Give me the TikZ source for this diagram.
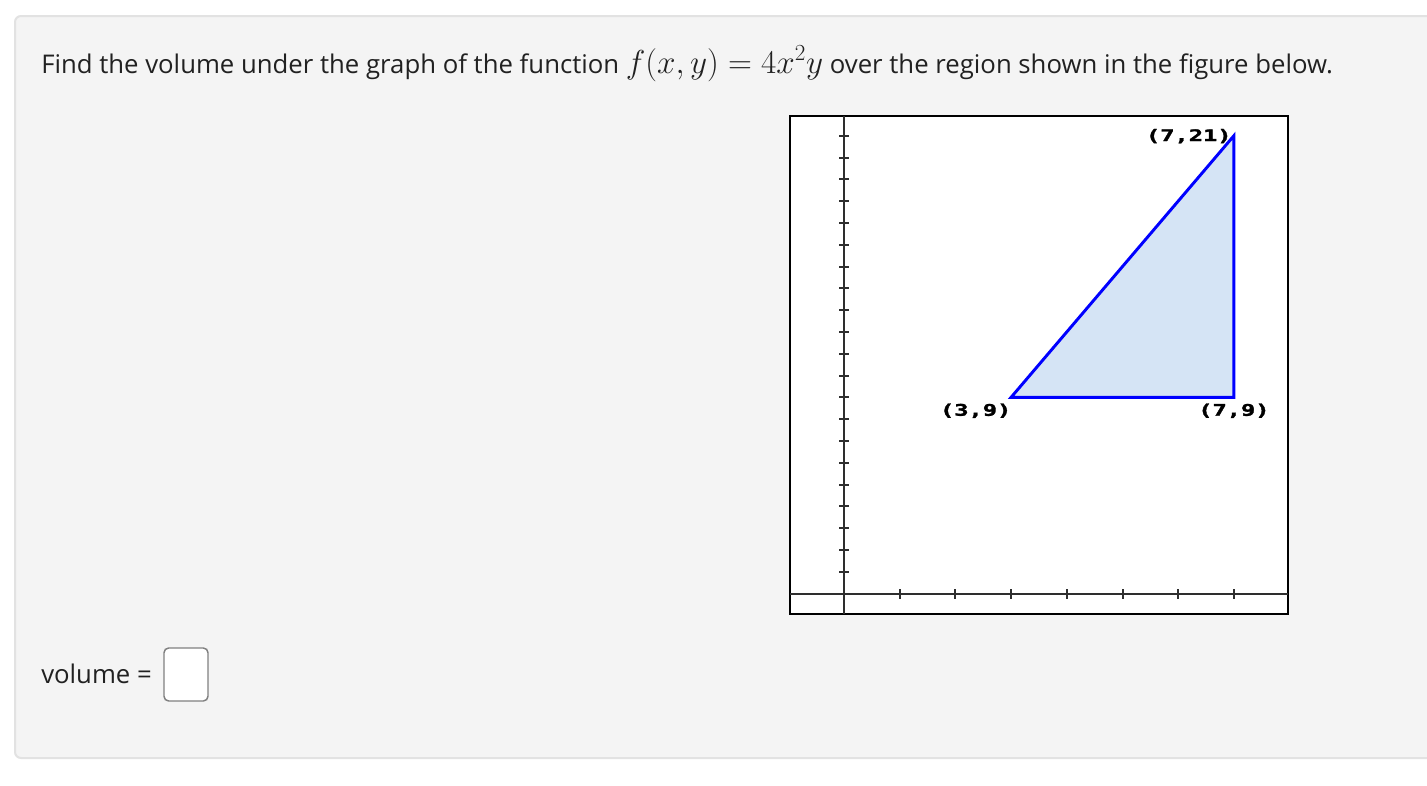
\documentclass[tikz,border=0pt]{standalone}
\usepackage[no-math]{fontspec}
\setmainfont{Open Sans}
\newfontfamily\ptfont{DejaVu Sans Mono}[BoldFeatures={FakeBold=1.6}]
\definecolor{panelbg}{HTML}{F4F4F4}
\definecolor{panelline}{HTML}{E2E2E2}
\definecolor{textcol}{HTML}{212121}
\definecolor{regionfill}{HTML}{D5E4F5}
\definecolor{regionline}{HTML}{0000FF}
\definecolor{axiscol}{HTML}{2E2E2E}
\definecolor{answerline}{HTML}{808080}
\newcommand{\mathsize}{\fontsize{25.2}{28}\selectfont}
\tikzset{
	prompt/.style={anchor=base west, inner sep=0pt, font=\fontsize{19.3}{24}\selectfont},
	answer/.style={draw=answerline, fill=white, line width=1.1pt, rounded corners=3.5pt,
		minimum width=33pt, minimum height=39.75pt, inner sep=0pt},
	axis/.style={draw=axiscol, line width=1.5pt},
	region/.style={draw=regionline, fill=regionfill, line width=2.2pt, line join=miter},
	ptlabel/.style={font=\ptfont\bfseries\fontsize{12}{14}\selectfont, xscale=1.48, inner sep=0pt, text=black}
}
\begin{document}
\begin{tikzpicture}[x=0.75pt, y=-0.75pt]
	\useasboundingbox (0, 0) rectangle (1427, 785);
	\fill[white] (0, 0) rectangle (1427, 785);
	\draw[panelline, fill=panelbg, line width=1.5pt, rounded corners=4.5pt] (15, 16) rectangle (1450, 758);
	
	\draw node[prompt, text=textcol] at (41, 73) (task) {Find the volume under the graph of the function {\mathsize$f(x,y) = 4x^2y$} over the region shown in the figure below.};
	\draw node[prompt, text=textcol] at (41, 683) (volume) {volume =};
	\draw node[answer] at (186, 674.5) (answer) {};
	
	% plot of the region
	\draw[black, line width=1.5pt, fill=white] (790, 116) rectangle (1288, 614);
	\begin{scope}[shift={(844, 593.5)}, x=41.775pt, y=16.35pt]
		\coordinate (origin) at (0, 0);
		\draw[axis] (-0.97, 0) -- (7.97, 0);
		\draw[axis] (0, -0.94) -- (0, 21.92);
		\foreach \i in {1,...,7}
			\draw[axis] (\i, -3.75pt) -- (\i, 3.75pt);
		\foreach \j in {1,...,21}
			\draw[axis] (-3.75pt, \j) -- (3.75pt, \j);
		
		\coordinate (p1) at (3, 9);
		\coordinate (p2) at (7, 9);
		\coordinate (p3) at (7, 21);
		\draw[region] (p1) -- (p2) -- (p3) -- cycle;
		
		\draw node[ptlabel, anchor=north east, xshift=0.3pt, yshift=-4.5pt] at (p1) (l1) {(3,9)};
		\draw node[ptlabel, anchor=north, yshift=-4.5pt] at (p2) (l2) {(7,9)};
		\draw node[ptlabel, anchor=north east, xshift=-1pt, yshift=5.25pt] at (p3) (l3) {(7,21)};
	\end{scope}
\end{tikzpicture}
\end{document}
